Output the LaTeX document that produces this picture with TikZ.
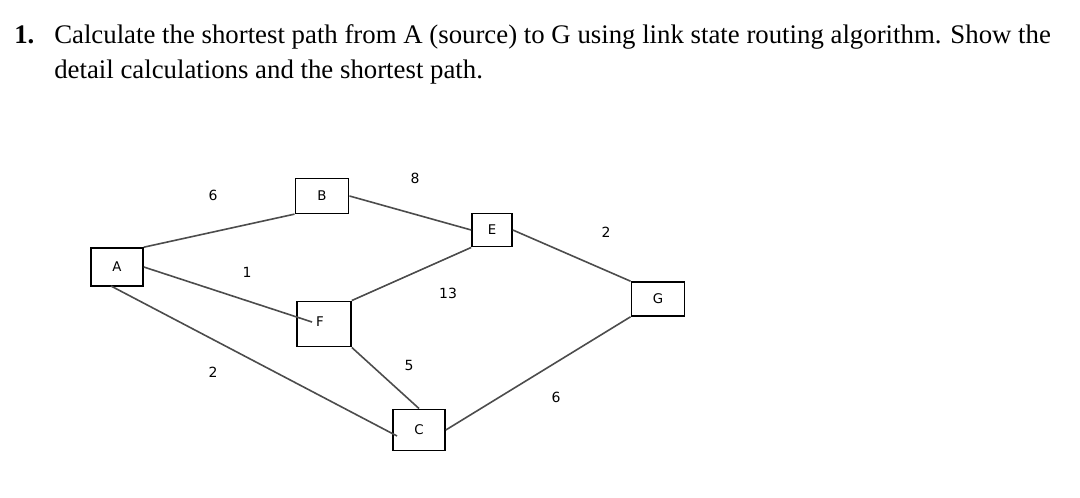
\documentclass[tikz,border=0pt]{standalone}
\usepackage{fontspec}
\setmainfont{Liberation Serif}
\newfontfamily\diag{DejaVu Sans}
\begin{document}
\begin{tikzpicture}[x=0.75pt,y=-0.75pt,
  box/.style={draw,line width=1.2pt,inner sep=0pt,font=\diag\fontsize{10}{12}\selectfont},
  edge/.style={line width=1.2pt,black!70},
  wt/.style={font=\diag\fontsize{10.5}{12}\selectfont},
  title/.style={anchor=base west,inner sep=0pt,font=\fontsize{20.1}{24}\selectfont}]
\useasboundingbox (0,0) rectangle (1080,498);
\node[title] (t0) at (14,44) {\textbf{1.}};
\node[title] (t1) at (54,44) {Calculate the shortest path from A (source) to G using link state routing algorithm. Show the};
\node[title] (t2) at (54,79) {detail calculations and the shortest path.};
\node[box,minimum width=39pt,minimum height=28.5pt] (A) at (117,267) {A};
\node[box,minimum width=40pt,minimum height=26pt] (B) at (322,196) {B};
\node[box,minimum width=30pt,minimum height=25pt] (E) at (492,230) {E};
\node[box,minimum width=40.5pt,minimum height=34pt] (F) at (324,324) {};
\node[box,minimum width=39pt,minimum height=31pt] (C) at (419,430) {C};
\node[box,minimum width=40pt,minimum height=25.5pt] (G) at (658,299) {G};
\node[box,draw=none] (Fl) at (320,322) {F};
\coordinate (fin) at (312,322);
\coordinate (cin) at (397,436);
\coordinate (ain) at (111,286);
\draw[edge] (A.north east) -- (B.south west);
\draw[edge] (B.east) -- (E.west);
\draw[edge] (E.south west) -- (F.north east);
\draw[edge] (A.east) -- (fin);
\draw[edge] (ain) -- (cin);
\draw[edge] (F.south east) -- (C.north);
\draw[edge] (C.east) -- (G.south west);
\draw[edge] (E.east) -- (G.north west);
\node[wt] (w1) at (213,195) {6};
\node[wt] (w2) at (415,178) {8};
\node[wt] (w3) at (606,232) {2};
\node[wt] (w4) at (247,272) {1};
\node[wt] (w5) at (448,293) {13};
\node[wt] (w6) at (409,365) {5};
\node[wt] (w7) at (213,372) {2};
\node[wt] (w8) at (556,397) {6};
\end{tikzpicture}
\end{document}
